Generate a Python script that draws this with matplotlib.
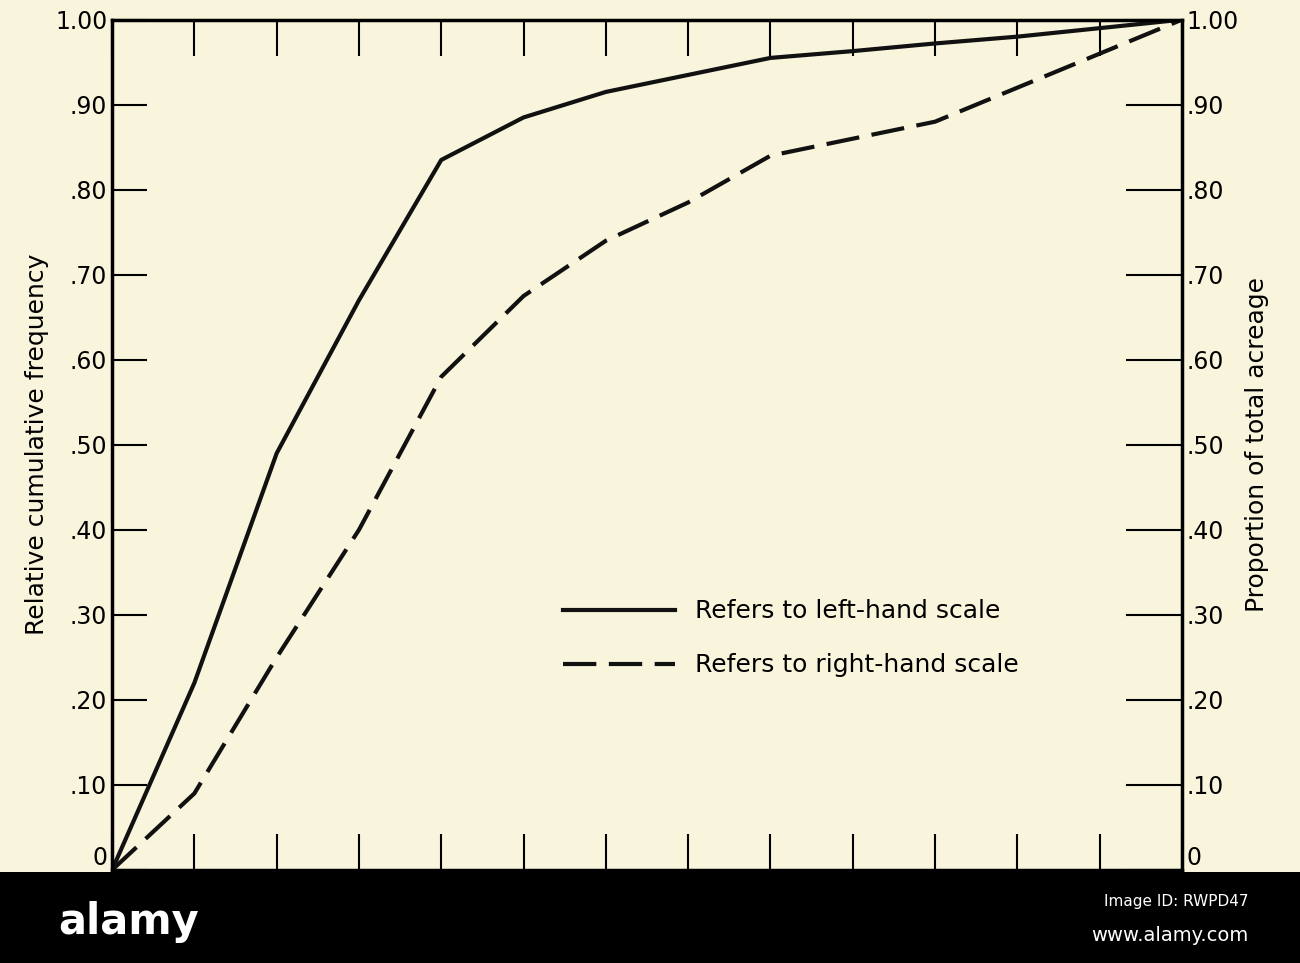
import matplotlib
matplotlib.use("Agg")
import matplotlib.pyplot as plt

x = list(range(14))
xlabels = ["1", "201", "401", "601", "801", "1001", "1201", "1401", "1601", "", "", "", "", ""]
solid = [0.0, 0.22, 0.49, 0.67, 0.835, 0.885, 0.915, 0.935, 0.955, 0.963, 0.972, 0.98, 0.99, 1.0]
dashed = [0.0, 0.09, 0.25, 0.40, 0.58, 0.675, 0.74, 0.785, 0.84, 0.86, 0.88, 0.92, 0.96, 1.0]
yticks = [0, .1, .2, .3, .4, .5, .6, .7, .8, .9, 1.0]
ylabels = ["0", ".10", ".20", ".30", ".40", ".50", ".60", ".70", ".80", ".90", "1.00"]

bg = "#f8f5dc"
fig = plt.figure(figsize=(13, 9.63), dpi=100, facecolor=bg)
ax = fig.add_axes([0.0862, 0.0966, 0.823, 0.883], facecolor=bg)
ax.plot(x, solid, color="#111", lw=3, label="Refers to left-hand scale")
ax.plot(x, dashed, color="#111", lw=3, dashes=(8, 3), label="Refers to right-hand scale")
ax.set_xlim(0, 13)
ax.set_ylim(0, 1)
ax.set_xticks(x)
ax.set_xticklabels(xlabels, fontsize=16)
ax.tick_params(axis="x", direction="in", length=26, width=1.5, top=True, pad=4)
ax.set_yticks(yticks)
ax.set_yticklabels(ylabels, fontsize=17)
ax.tick_params(axis="y", direction="in", length=25, width=1.5)
for s in ax.spines.values():
    s.set_linewidth(2.5)
ax.set_ylabel("Relative cumulative frequency", fontsize=18)
ax2 = ax.twinx()
ax2.set_ylim(0, 1)
ax2.set_yticks(yticks)
ax2.set_yticklabels(ylabels, fontsize=17)
ax2.tick_params(axis="y", direction="in", length=40, width=1.5)
ax2.set_ylabel("Proportion of total acreage", fontsize=18)
for t in ax.get_yticklabels()[:1] + ax2.get_yticklabels()[:1]:
    t.set_va("bottom")
ax.legend(loc="lower left", bbox_to_anchor=(0.4, 0.2), frameon=False, fontsize=18,
          handlelength=4.5, labelspacing=1.2)
band = fig.add_axes([0, 0, 1, 91/963], facecolor="black", zorder=5)
band.set_axis_off()
band.add_patch(plt.Rectangle((0, 0), 1, 1, color="black", transform=band.transAxes))
band.text(0.045, 0.45, "alamy", color="white", fontsize=30, fontweight="bold", va="center")
band.text(0.96, 0.68, "Image ID: RWPD47", color="white", fontsize=11, ha="right", va="center")
band.text(0.96, 0.3, "www.alamy.com", color="white", fontsize=14, ha="right", va="center")
fig.savefig("out.png", dpi=100, facecolor=bg)
